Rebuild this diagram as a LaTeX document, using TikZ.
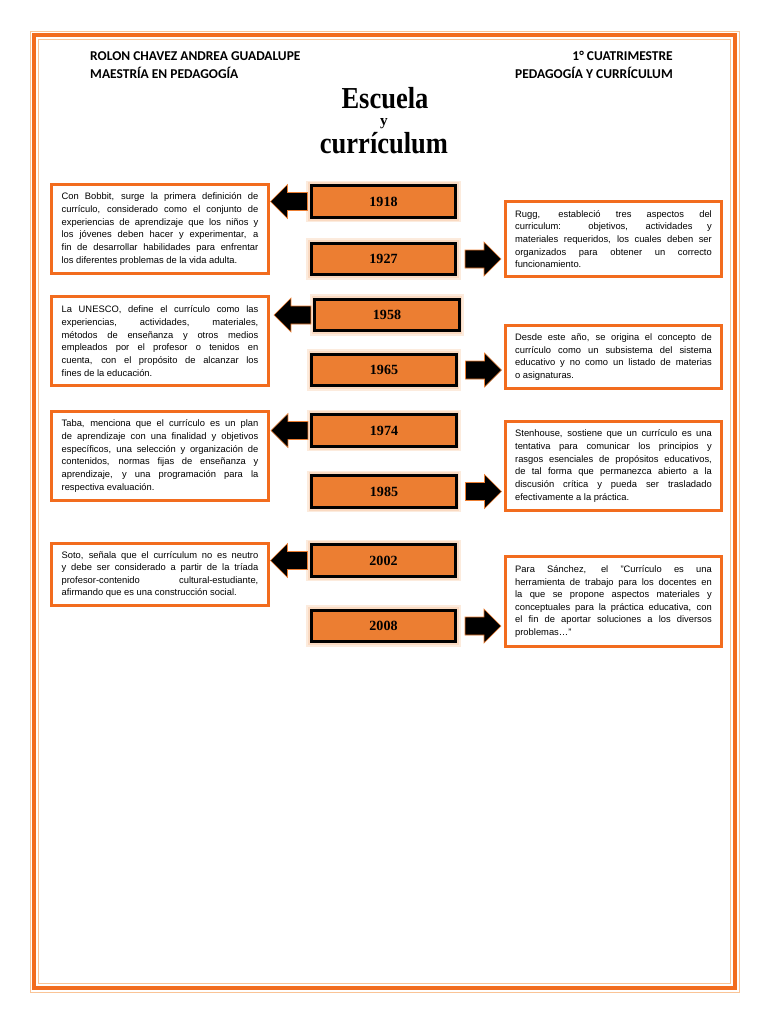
\documentclass[tikz,border=0pt]{standalone}
\usepackage{fontspec}
\usepackage{graphicx}
\setmainfont{Liberation Serif}
\setsansfont{Liberation Sans}
\newfontfamily\hdrfont{Carlito}
\usetikzlibrary{calc}
\definecolor{pageorange}{RGB}{242,108,30}
\definecolor{pageorangel}{RGB}{250,196,150}
\definecolor{yearorange}{RGB}{236,126,50}
\definecolor{yearglow}{RGB}{250,218,194}
\tolerance=10000
\hyphenpenalty=10000

\begin{document}
\begin{tikzpicture}[x=0.03cm,y=-0.03cm,
  hdr/.style={font=\hdrfont\bfseries\fontsize{11.5}{12}\selectfont,inner sep=0pt},
  ttl/.style={font=\bfseries\fontsize{26}{26}\selectfont,inner sep=0pt,anchor=base},
  yearbox/.style={draw=black,line width=0.09cm,fill=yearorange,minimum width=4.32cm,minimum height=0.95cm,inner sep=0pt,
    font=\bfseries\fontsize{12}{12}\selectfont,
    preaction={draw=yearglow!55,line width=0.3cm,rounded corners=2pt},preaction={draw=yearglow,line width=0.2cm}},
  notebox/.style={draw=pageorange,line width=0.09cm,fill=white,text width=5.9cm,inner xsep=0.3cm,align=justify,
    font=\sffamily\fontsize{8}{10.8}\selectfont},
  blockarrow/.style={fill=black,draw=yearorange,line width=0.5pt}]
  \fill[white] (0,0) rectangle (768,1024);
  \useasboundingbox (0,0) rectangle (768,1024);
  % page frame
  \draw[pageorangel,line width=0.7pt] (30,31) rectangle (739,992);
  \draw[pageorange,line width=0.14cm] (34,35) rectangle (735,988);
  \draw[pageorangel,line width=0.7pt] (38.5,39.5) rectangle (730.5,983.5);
  % header
  \node[hdr,anchor=base west] (autora) at (90,60) {ROLON CHAVEZ ANDREA GUADALUPE};
  \node[hdr,anchor=base west] (maestria) at (90,78) {MAESTRÍA EN PEDAGOGÍA};
  \node[hdr,anchor=base east] (cuatri) at (673,60) {1° CUATRIMESTRE};
  \node[hdr,anchor=base east] (materia) at (673,78) {PEDAGOGÍA Y CURRÍCULUM};
  % title
  \node[ttl] (escuela) at (385,108) {\scalebox{0.87}[1]{Escuela}};
  \node[ttl,font=\bfseries\fontsize{13}{13}\selectfont] (yy) at (384,125) {y};
  \node[ttl] (curr) at (384,153) {\scalebox{0.87}[1]{currículum}};
  % years
  \node[yearbox] (y1918) at (383.5,201.5) {1918};
  \node[yearbox] (y1927) at (383.5,259) {1927};
  \node[yearbox] (y1958) at (387,315) {1958};
  \node[yearbox] (y1965) at (384,370) {1965};
  \node[yearbox] (y1974) at (384,430.5) {1974};
  \node[yearbox] (y1985) at (384,491.5) {1985};
  \node[yearbox] (y2002) at (383.5,560.5) {2002};
  \node[yearbox] (y2008) at (383.5,626) {2008};
  \foreach \yr in {1918,1958,1974,2002}{
    \draw[blockarrow] ($(y\yr.west)+(-2.5,-9)$) -- ++(-20,0) -- ++(0,-8) -- ++(-17,17) -- ++(17,17) -- ++(0,-8) -- ++(20,0) -- cycle;
  }
  \foreach \yr in {1927,1965,1985,2008}{
    \draw[blockarrow] ($(y\yr.east)+(8,-9)$) -- ++(19,0) -- ++(0,-8) -- ++(17,17) -- ++(-17,17) -- ++(0,-8) -- ++(-19,0) -- cycle;
  }
  % notes
  \node[notebox,minimum height=2.67cm] (bobbit) at (160,229) {Con Bobbit, surge la primera definición de\linebreak currículo, considerado como el conjunto de\linebreak experiencias de aprendizaje que los niños y\linebreak los jóvenes deben hacer y experimentar, a\linebreak fin de desarrollar habilidades para enfrentar\linebreak los diferentes problemas de la vida adulta.};
  \node[notebox,minimum height=2.25cm] (rugg) at (613.5,239) {Rugg, estableció tres aspectos del\linebreak curriculum: objetivos, actividades y\linebreak materiales requeridos, los cuales deben ser\linebreak organizados para obtener un correcto\linebreak funcionamiento.};
  \node[notebox,minimum height=2.67cm] (unesco) at (160,341) {La UNESCO, define el currículo como las\linebreak experiencias, actividades, materiales,\linebreak métodos de enseñanza y otros medios\linebreak empleados por el profesor o tenidos en\linebreak cuenta, con el propósito de alcanzar los\linebreak fines de la educación.};
  \node[notebox,minimum height=1.89cm] (desde) at (613.5,357) {Desde este año, se origina el concepto de\linebreak currículo como un subsistema del sistema\linebreak educativo y no como un listado de materias\linebreak o asignaturas.};
  \node[notebox,minimum height=2.67cm] (taba) at (160,456) {Taba, menciona que el currículo es un plan\linebreak de aprendizaje con una finalidad y objetivos\linebreak específicos, una selección y organización de\linebreak contenidos, normas fijas de enseñanza y\linebreak aprendizaje, y una programación para la\linebreak respectiva evaluación.};
  \node[notebox,minimum height=2.67cm] (stenhouse) at (613.5,466) {Stenhouse, sostiene que un currículo es una\linebreak tentativa para comunicar los principios y\linebreak rasgos esenciales de propósitos educativos,\linebreak de tal forma que permanezca abierto a la\linebreak discusión crítica y pueda ser trasladado\linebreak efectivamente a la práctica.};
  \node[notebox,minimum height=1.86cm] (soto) at (160,574.5) {Soto, señala que el currículum no es neutro\linebreak y debe ser considerado a partir de la tríada\linebreak profesor-contenido cultural-estudiante,\linebreak afirmando que es una construcción social.};
  \node[notebox,minimum height=2.7cm] (sanchez) at (613.5,601.5) {Para Sánchez, el "Currículo es una\linebreak herramienta de trabajo para los docentes en\linebreak la que se propone aspectos materiales y\linebreak conceptuales para la práctica educativa, con\linebreak el fin de aportar soluciones a los diversos\linebreak problemas…"};
\end{tikzpicture}
\end{document}
